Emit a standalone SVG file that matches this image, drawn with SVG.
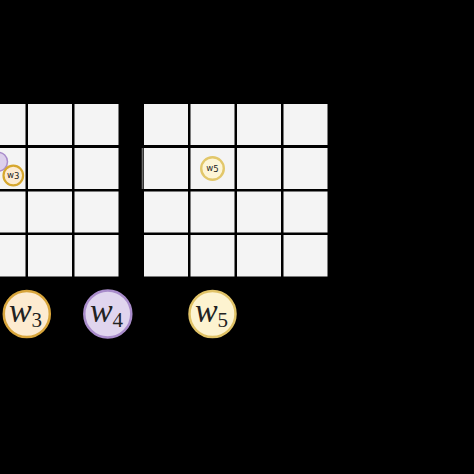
<svg xmlns="http://www.w3.org/2000/svg" width="474" height="474" viewBox="0 0 474 474">
<style>
.cell{fill:#f4f4f4}
.sm{font-family:"DejaVu Sans","Liberation Sans",sans-serif;font-size:8.5px;fill:#222}
.mw{font-family:"Liberation Serif",serif;font-style:italic;font-size:34px;fill:#222}
.md{font-family:"Liberation Serif",serif;font-size:21px;fill:#222}
</style>
<rect width="474" height="474" fill="#000"/>
<g id="grid-left">
<rect class="cell" x="-18.5" y="104" width="44" height="41"/>
<rect class="cell" x="28" y="104" width="44" height="41"/>
<rect class="cell" x="74.5" y="104" width="44" height="41"/>
<rect class="cell" x="-18.5" y="148" width="44" height="41"/>
<rect class="cell" x="28" y="148" width="44" height="41"/>
<rect class="cell" x="74.5" y="148" width="44" height="41"/>
<rect class="cell" x="-18.5" y="191.5" width="44" height="41"/>
<rect class="cell" x="28" y="191.5" width="44" height="41"/>
<rect class="cell" x="74.5" y="191.5" width="44" height="41"/>
<rect class="cell" x="-18.5" y="235" width="44" height="41.5"/>
<rect class="cell" x="28" y="235" width="44" height="41.5"/>
<rect class="cell" x="74.5" y="235" width="44" height="41.5"/>
</g>
<g id="grid-right">
<rect x="141.7" y="148" width="1.8" height="41" fill="#6a6a6a"/>
<rect class="cell" x="144" y="104" width="44" height="41"/>
<rect class="cell" x="190.5" y="104" width="44" height="41"/>
<rect class="cell" x="237" y="104" width="44" height="41"/>
<rect class="cell" x="283.5" y="104" width="44" height="41"/>
<rect class="cell" x="144" y="148" width="44" height="41"/>
<rect class="cell" x="190.5" y="148" width="44" height="41"/>
<rect class="cell" x="237" y="148" width="44" height="41"/>
<rect class="cell" x="283.5" y="148" width="44" height="41"/>
<rect class="cell" x="144" y="191.5" width="44" height="41"/>
<rect class="cell" x="190.5" y="191.5" width="44" height="41"/>
<rect class="cell" x="237" y="191.5" width="44" height="41"/>
<rect class="cell" x="283.5" y="191.5" width="44" height="41"/>
<rect class="cell" x="144" y="235" width="44" height="41.5"/>
<rect class="cell" x="190.5" y="235" width="44" height="41.5"/>
<rect class="cell" x="237" y="235" width="44" height="41.5"/>
<rect class="cell" x="283.5" y="235" width="44" height="41.5"/>
</g>
<g id="w4-small">
<circle cx="-2" cy="161.7" r="9.5" fill="#ddd0ec" stroke="#a98ccb" stroke-width="1.5"/>
</g>
<g id="w3-small">
<circle cx="13.3" cy="175.5" r="9.8" fill="#fcebd2" stroke="#d6a72e" stroke-width="2.2"/>
<text class="sm" x="13.3" y="177.5" text-anchor="middle">w<tspan dy="1.5">3</tspan></text>
</g>
<g id="w5-small">
<circle cx="212.5" cy="168.5" r="11.3" fill="#fdf5d6" stroke="#e2c76a" stroke-width="2.4"/>
<text class="sm" x="212.5" y="170.5" text-anchor="middle">w<tspan dy="1.5">5</tspan></text>
</g>
<g id="w3">
<circle cx="26.8" cy="314" r="23" fill="#fdebd0" stroke="#d8a53b" stroke-width="2.5"/>
<text x="25.5" y="322" text-anchor="middle"><tspan class="mw">w</tspan><tspan class="md" dy="5">3</tspan></text>
</g>
<g id="w4">
<circle cx="107.8" cy="314" r="23.5" fill="#e0d5ee" stroke="#a98ccb" stroke-width="2.5"/>
<text x="106.5" y="322" text-anchor="middle"><tspan class="mw">w</tspan><tspan class="md" dy="5">4</tspan></text>
</g>
<g id="w5">
<circle cx="212.5" cy="314" r="23" fill="#fdf3d0" stroke="#e0c266" stroke-width="2.5"/>
<text x="211.5" y="322" text-anchor="middle"><tspan class="mw">w</tspan><tspan class="md" dy="5">5</tspan></text>
</g>
</svg>
